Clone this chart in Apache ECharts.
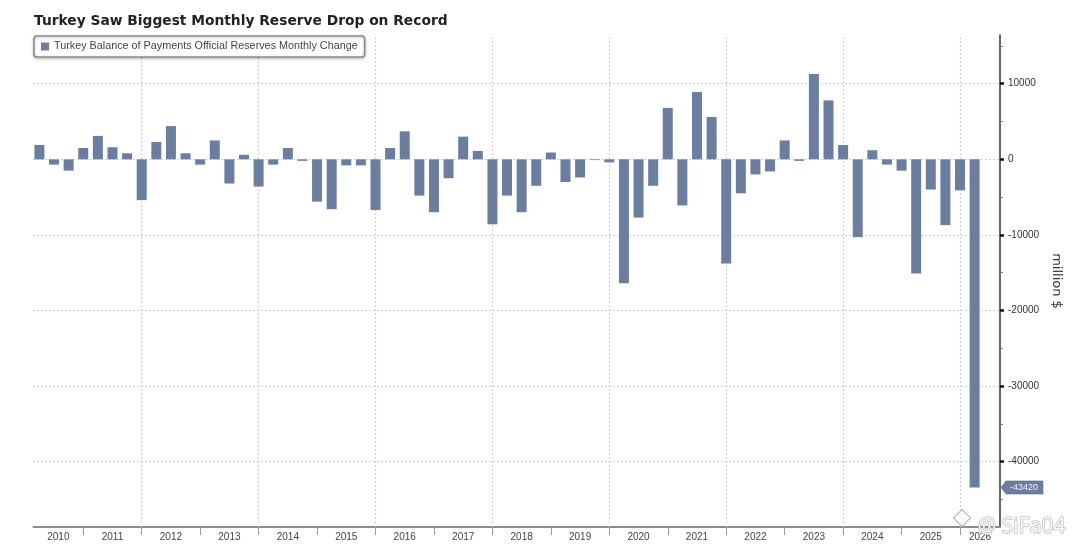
<!DOCTYPE html>
<html>
<head>
<meta charset="utf-8">
<script src="https://cdn.jsdelivr.net/npm/echarts@6/dist/echarts.min.js"></script>
<style>
  html, body { margin: 0; padding: 0; background: #fff; }
  #chart { width: 1080px; height: 553px; }
</style>
</head>
<body>
<div id="chart"></div>
<script>
// quarterly reserve change, million $, 2010Q1 .. 2026Q1
var years = [2010, 2011, 2012, 2013, 2014, 2015, 2016, 2017, 2018,
             2019, 2020, 2021, 2022, 2023, 2024, 2025, 2026];
var changes = [
    1900, -700, -1500, 1500,      // 2010
    3100, 1600, 800, -5400,       // 2011
    2300, 4400, 800, -700,        // 2012
    2500, -3200, 600, -3600,      // 2013
    -700, 1500, -200, -5600,      // 2014
    -6600, -800, -800, -6700,     // 2015
    1500, 3700, -4800, -7000,     // 2016
    -2500, 3000, 1100, -8600,     // 2017
    -4800, -7000, -3500, 900,     // 2018
    -3000, -2400, -100, -400,     // 2019
    -16400, -7700, -3500, 6800,   // 2020
    -6100, 8900, 5600, -13800,    // 2021
    -4500, -2000, -1600, 2500,    // 2022
    -200, 11300, 7800, 1900,      // 2023
    -10300, 1200, -700, -1500,    // 2024
    -15100, -4000, -8700, -4100,  // 2025
    -43420                        // 2026
];
var yTicks = [10000, 0, -10000, -20000, -30000, -40000];
var yMinorTicks = [15000, 5000, -5000, -15000, -25000, -35000, -45000];
var gridYears = [2012, 2014, 2016, 2018, 2020, 2022, 2024, 2026];

var seriesName = 'Turkey Balance of Payments Official Reserves Monthly Change';
var barColor = '#6b7ea0';
var xMin = 2010.147, xMax = 2026.684;

// each bar sits at the end of its quarter
var barData = [];
for (var i = 0; i < changes.length; i++) {
    barData.push([years[0] + (i + 1) * 0.25, changes[i]]);
}
// year labels centred in the visible part of each year
var yearTicks = years.slice(1);
var yearLabelPos = [];
for (var j = 0; j < years.length; j++) {
    var a = Math.max(years[j], xMin), b = Math.min(years[j] + 1, xMax);
    yearLabelPos.push((a + b) / 2);
}
var lastValue = changes[changes.length - 1];

function drawChart() {
    var myChart = echarts.init(document.getElementById('chart'));
    var dotted = { color: '#c2c2c2', width: 1.2, type: [1.5, 2.5] };
    var option = {
        animation: false,
        backgroundColor: '#fff',
        title: {
            text: 'Turkey Saw Biggest Monthly Reserve Drop on Record',
            left: 34, top: 14, padding: 0,
            textStyle: { fontFamily: 'DejaVu Sans', fontWeight: 'bold', fontSize: 13.8, color: '#222' }
        },
        legend: {
            left: 34, top: 36,
            padding: [5, 7, 5, 7],
            itemWidth: 8, itemHeight: 8,
            icon: 'rect',
            borderColor: '#8a8a8a', borderWidth: 1.5, borderRadius: 3,
            shadowBlur: 3, shadowColor: 'rgba(0,0,0,0.25)', shadowOffsetY: 1,
            backgroundColor: '#fff',
            textStyle: { fontFamily: 'Liberation Sans', fontSize: 10.8, color: '#444' },
            data: [seriesName]
        },
        grid: { left: 33.4, right: 80, top: 35, bottom: 26, outerBoundsMode: 'none' },
        xAxis: {
            type: 'value', min: xMin, max: xMax,
            axisLine: { show: true, onZero: false, lineStyle: { color: '#8c8c8c', width: 2 } },
            axisTick: { show: true, customValues: yearTicks, length: 8, lineStyle: { color: '#999', width: 1 } },
            axisLabel: {
                customValues: yearLabelPos, margin: 5,
                fontFamily: 'Liberation Sans', fontSize: 10, color: '#444',
                formatter: function (v) { return String(Math.floor(v)); }
            },
            splitLine: { show: false }
        },
        yAxis: [{
            type: 'value', position: 'right', min: -48650, max: 16450,
            name: 'million $', nameLocation: 'middle', nameRotate: -90, nameGap: 46,
            nameTextStyle: { fontFamily: 'DejaVu Sans', fontSize: 13, color: '#333' },
            axisLine: { show: true, lineStyle: { color: '#333', width: 1.5 } },
            axisTick: { show: true, customValues: yTicks, length: 4, lineStyle: { color: '#111', width: 2.5 } },
            axisLabel: {
                customValues: yTicks, margin: 8,
                fontFamily: 'Liberation Sans', fontSize: 10, color: '#333',
                formatter: function (v) { return String(v); }
            },
            splitLine: { show: true, lineStyle: dotted }
        }, {
            type: 'value', position: 'right', min: -48650, max: 16450,
            axisLine: { show: false },
            axisTick: { show: true, customValues: yMinorTicks, length: 3, lineStyle: { color: '#777', width: 1 } },
            axisLabel: { show: false },
            splitLine: { show: false }
        }],
        series: [{
            // vertical grid lines every two years, kept behind the bars
            name: 'grid',
            type: 'line',
            z: 1,
            data: [],
            markLine: {
                z: 1,
                silent: true, symbol: ['none', 'none'],
                label: { show: false },
                lineStyle: dotted,
                data: gridYears.map(function (y) { return { xAxis: y }; })
            }
        }, {
            name: seriesName,
            type: 'bar',
            z: 3,
            barWidth: 10,
            itemStyle: { color: barColor },
            data: barData,
            markPoint: {
                silent: true,
                symbol: 'path://M0,6 L5,0 L42,0 L42,12 L5,12 Z',
                symbolSize: [42, 13],
                symbolOffset: [22, 0],
                itemStyle: { color: barColor, borderColor: '#55688a', borderWidth: 0.5 },
                label: {
                    show: true, position: 'inside', offset: [2, 0],
                    fontFamily: 'Liberation Sans', fontSize: 9, color: '#eef1f6',
                    formatter: String(lastValue)
                },
                data: [{ coord: [xMax, lastValue] }]
            }
        }],
        graphic: [{
            type: 'text', left: 977, top: 516, z: 10,
            style: {
                text: '@ SiFa04', fontFamily: 'Noto Sans', fontSize: 21,
                fill: 'rgba(255,255,255,0.85)', stroke: '#a8a8a8', lineWidth: 1
            }
        }, {
            type: 'rect', rotation: Math.PI / 4, x: 962, y: 518, z: 10,
            shape: { x: -6, y: -6, width: 12, height: 12 },
            style: { fill: 'rgba(255,255,255,0.7)', stroke: '#b0b0b0', lineWidth: 1 }
        }]
    };
    option && myChart.setOption(option);
}
window.onload = function () {
    drawChart();
};
</script>
</body>
</html>
